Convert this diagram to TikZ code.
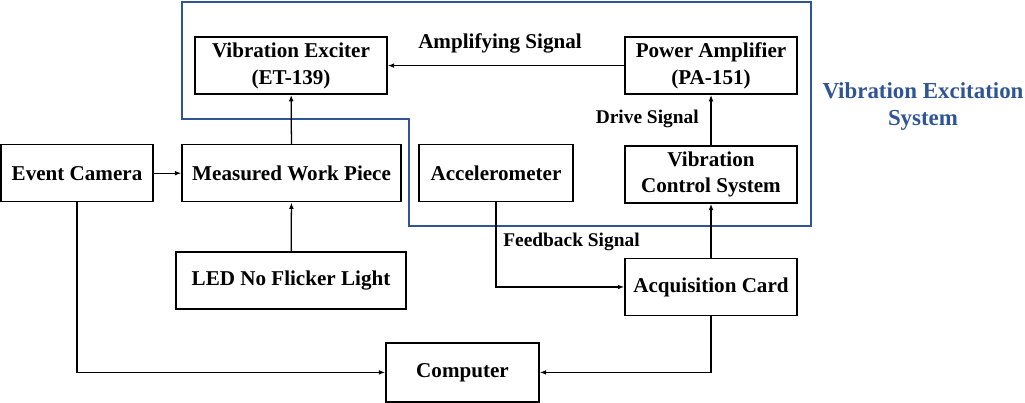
\documentclass[tikz,border=0pt]{standalone}
\usepackage{fontspec}
\setmainfont{Liberation Serif}
\usepackage{xcolor}
\usepackage{tikz}
\usetikzlibrary{arrows.meta, positioning}
\definecolor{framblue}{HTML}{2F5597}

\begin{document}
\begin{tikzpicture}[
    block/.style={rectangle, draw=black, fill=white, line width=1.1pt, align=center, minimum height=1.425cm, font=\fontsize{15}{19}\selectfont\bfseries},
    sigtext/.style={font=\fontsize{13.8}{17}\selectfont\bfseries, inner sep=0pt},
    arrow/.style={-{Latex[length=1.6mm, width=1.2mm]}, line width=0.9pt, color=black},
    sysframe/.style={draw=framblue, line width=1.3pt}
]
\useasboundingbox (0,0) rectangle (25.625,-10.075);

% excitation system frame
\draw[sysframe] (4.55,-0.05) -- (4.55,-2.975) -- (10.225,-2.975) -- (10.225,-5.65)
    -- (20.275,-5.65) -- (20.275,-0.05) -- cycle;
\node[font=\fontsize{16.3}{19.5}\selectfont\bfseries, inner sep=0pt, text=framblue, align=center] (systitle) at (23.075,-2.66) {Vibration Excitation\\System};

\node[block, minimum width=4.8cm] (exciter) at (7.275,-1.64) {Vibration Exciter\\(ET-139)};
\node[block, minimum width=4.3cm] (poweramp) at (17.775,-1.64) {Power Amplifier\\(PA-151)};

\node[block, minimum width=3.8cm] (camera) at (1.925,-4.33) {Event Camera};
\node[block, minimum width=5.475cm] (workpiece) at (7.29,-4.33) {Measured Work Piece};
\node[block, minimum width=3.85cm] (accel) at (12.4,-4.33) {Accelerometer};
\node[block, minimum width=4.3cm] (control) at (17.775,-4.36) {Vibration\\Control System};

\node[block, minimum width=5.75cm] (led) at (7.275,-7.01) {LED No Flicker Light};
\node[block, minimum width=4.3cm] (acq) at (17.775,-7.175) {Acquisition Card};
\node[block, minimum width=3.825cm, minimum height=1.475cm] (computer) at (11.5625,-9.31) {Computer};

\node[sigtext, font=\fontsize{15}{19}\selectfont\bfseries] (amptext) at (12.5,-1.075) {Amplifying Signal};
\node[sigtext, anchor=east] (drivetext) at (17.475,-2.975) {Drive Signal};
\node[sigtext, anchor=west] (feedtext) at (12.575,-6.05) {Feedback Signal};

\draw[arrow] (camera) -- (workpiece);
\draw[arrow] (workpiece) -- (exciter);
\draw[arrow] (led) -- (workpiece);
\draw[arrow] (poweramp) -- (exciter);
\draw[arrow] (control) -- (poweramp);
\draw[arrow] (acq) -- (control);
\draw[arrow] (accel.south) |- (acq.west);
\draw[arrow] (camera.south) |- (computer.west);
\draw[arrow] (acq.south) |- (computer.east);
\end{tikzpicture}
\end{document}
